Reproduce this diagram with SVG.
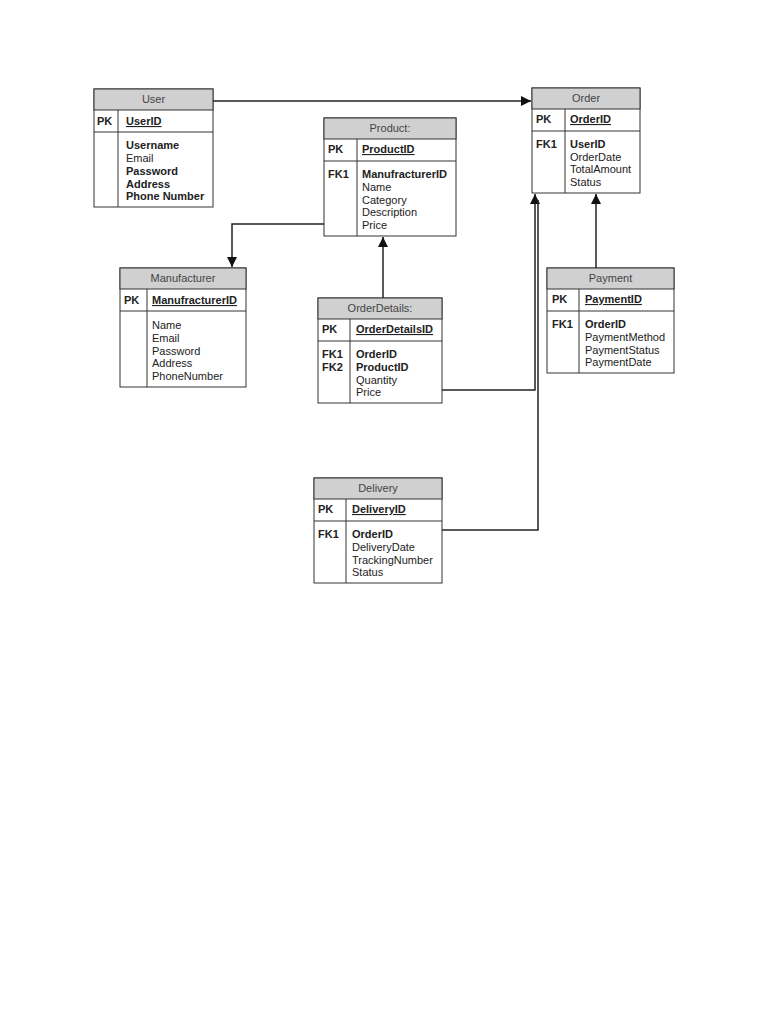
<svg xmlns="http://www.w3.org/2000/svg" width="768" height="1024" viewBox="0 0 768 1024">
<style>
.b{fill:#fff;stroke:#333;stroke-width:1}
.h{fill:#d0d0d0;stroke:#333;stroke-width:1}
.l{stroke:#333;stroke-width:1;fill:none}
text{font-family:"Liberation Sans",Arial,sans-serif;font-size:11px;fill:#222}
.t{text-anchor:middle;fill:#444}
.k{font-weight:bold}
.u{font-weight:bold;text-decoration:underline}
.c{stroke:#222;stroke-width:1.5;fill:none}
</style>
<defs><marker id="a" viewBox="0 0 10 10" refX="10" refY="5" markerWidth="7" markerHeight="7" orient="auto" markerUnits="userSpaceOnUse"><path d="M0,0L10,5L0,10z" fill="#111"/></marker>
<marker id="A" viewBox="0 0 10 10" refX="10" refY="5" markerWidth="10" markerHeight="10" orient="auto" markerUnits="userSpaceOnUse"><path d="M0,0L10,5L0,10z" fill="#111"/></marker></defs>
<rect width="768" height="1024" fill="#fff"/>
<g id="connectors">
<path class="c" d="M213,101H531" marker-end="url(#A)"/>
<path class="c" d="M324,224H232V267" marker-end="url(#A)"/>
<path class="c" d="M383,298V237" marker-end="url(#A)"/>
<path class="c" d="M442,390H535V194" marker-end="url(#A)"/>
<path class="c" d="M442,530H538V200"/>
<path class="c" d="M596,268V194" marker-end="url(#A)"/>
</g>
<g id="user">
<rect class="b" x="94" y="89" width="119" height="118"/><rect class="h" x="94" y="89" width="119" height="21"/>
<path class="l" d="M94,132H213M118,110V207"/>
<text class="t" x="153.5" y="103">User</text>
<text class="k" x="97" y="125">PK</text><text class="u" x="126" y="125">UserID</text>
<text class="k" x="126" y="149">Username</text><text x="126" y="162">Email</text><text class="k" x="126" y="175">Password</text><text class="k" x="126" y="188">Address</text><text class="k" x="126" y="200">Phone Number</text>
</g>
<g id="order">
<rect class="b" x="532" y="88" width="108" height="105"/><rect class="h" x="532" y="88" width="108" height="21"/>
<path class="l" d="M532,131H640M565,109V193"/>
<text class="t" x="586" y="102">Order</text>
<text class="k" x="536" y="123">PK</text><text class="u" x="570" y="123">OrderID</text>
<text class="k" x="536" y="148">FK1</text><text class="k" x="570" y="148">UserID</text><text x="570" y="161">OrderDate</text><text x="570" y="173">TotalAmount</text><text x="570" y="186">Status</text>
</g>
<g id="product">
<rect class="b" x="324" y="118" width="132" height="118"/><rect class="h" x="324" y="118" width="132" height="21"/>
<path class="l" d="M324,161H456M357,139V236"/>
<text class="t" x="390" y="132">Product:</text>
<text class="k" x="328" y="153">PK</text><text class="u" x="362" y="153">ProductID</text>
<text class="k" x="328" y="178">FK1</text><text class="k" x="362" y="178">ManufracturerID</text><text x="362" y="191">Name</text><text x="362" y="204">Category</text><text x="362" y="216">Description</text><text x="362" y="229">Price</text>
</g>
<g id="manufacturer">
<rect class="b" x="120" y="268" width="126" height="119"/><rect class="h" x="120" y="268" width="126" height="21"/>
<path class="l" d="M120,311H246M147,289V387"/>
<text class="t" x="183" y="282">Manufacturer</text>
<text class="k" x="124" y="304">PK</text><text class="u" x="152" y="304">ManufracturerID</text>
<text x="152" y="329">Name</text><text x="152" y="342">Email</text><text x="152" y="355">Password</text><text x="152" y="367">Address</text><text x="152" y="380">PhoneNumber</text>
</g>
<g id="orderdetails">
<rect class="b" x="318" y="298" width="124" height="105"/><rect class="h" x="318" y="298" width="124" height="21"/>
<path class="l" d="M318,341H442M350,319V403"/>
<text class="t" x="380" y="312">OrderDetails:</text>
<text class="k" x="322" y="333">PK</text><text class="u" x="356" y="333">OrderDetailsID</text>
<text class="k" x="322" y="358">FK1</text><text class="k" x="322" y="371">FK2</text>
<text class="k" x="356" y="358">OrderID</text><text class="k" x="356" y="371">ProductID</text><text x="356" y="384">Quantity</text><text x="356" y="396">Price</text>
</g>
<g id="payment">
<rect class="b" x="547" y="268" width="127" height="105"/><rect class="h" x="547" y="268" width="127" height="21"/>
<path class="l" d="M547,311H674M579,289V373"/>
<text class="t" x="610.5" y="282">Payment</text>
<text class="k" x="552" y="303">PK</text><text class="u" x="585" y="303">PaymentID</text>
<text class="k" x="552" y="328">FK1</text><text class="k" x="585" y="328">OrderID</text><text x="585" y="341">PaymentMethod</text><text x="585" y="354">PaymentStatus</text><text x="585" y="366">PaymentDate</text>
</g>
<g id="delivery">
<rect class="b" x="314" y="478" width="128" height="105"/><rect class="h" x="314" y="478" width="128" height="21"/>
<path class="l" d="M314,521H442M346,499V583"/>
<text class="t" x="378" y="492">Delivery</text>
<text class="k" x="318" y="513">PK</text><text class="u" x="352" y="513">DeliveryID</text>
<text class="k" x="318" y="538">FK1</text><text class="k" x="352" y="538">OrderID</text><text x="352" y="551">DeliveryDate</text><text x="352" y="564">TrackingNumber</text><text x="352" y="576">Status</text>
</g>
</svg>
